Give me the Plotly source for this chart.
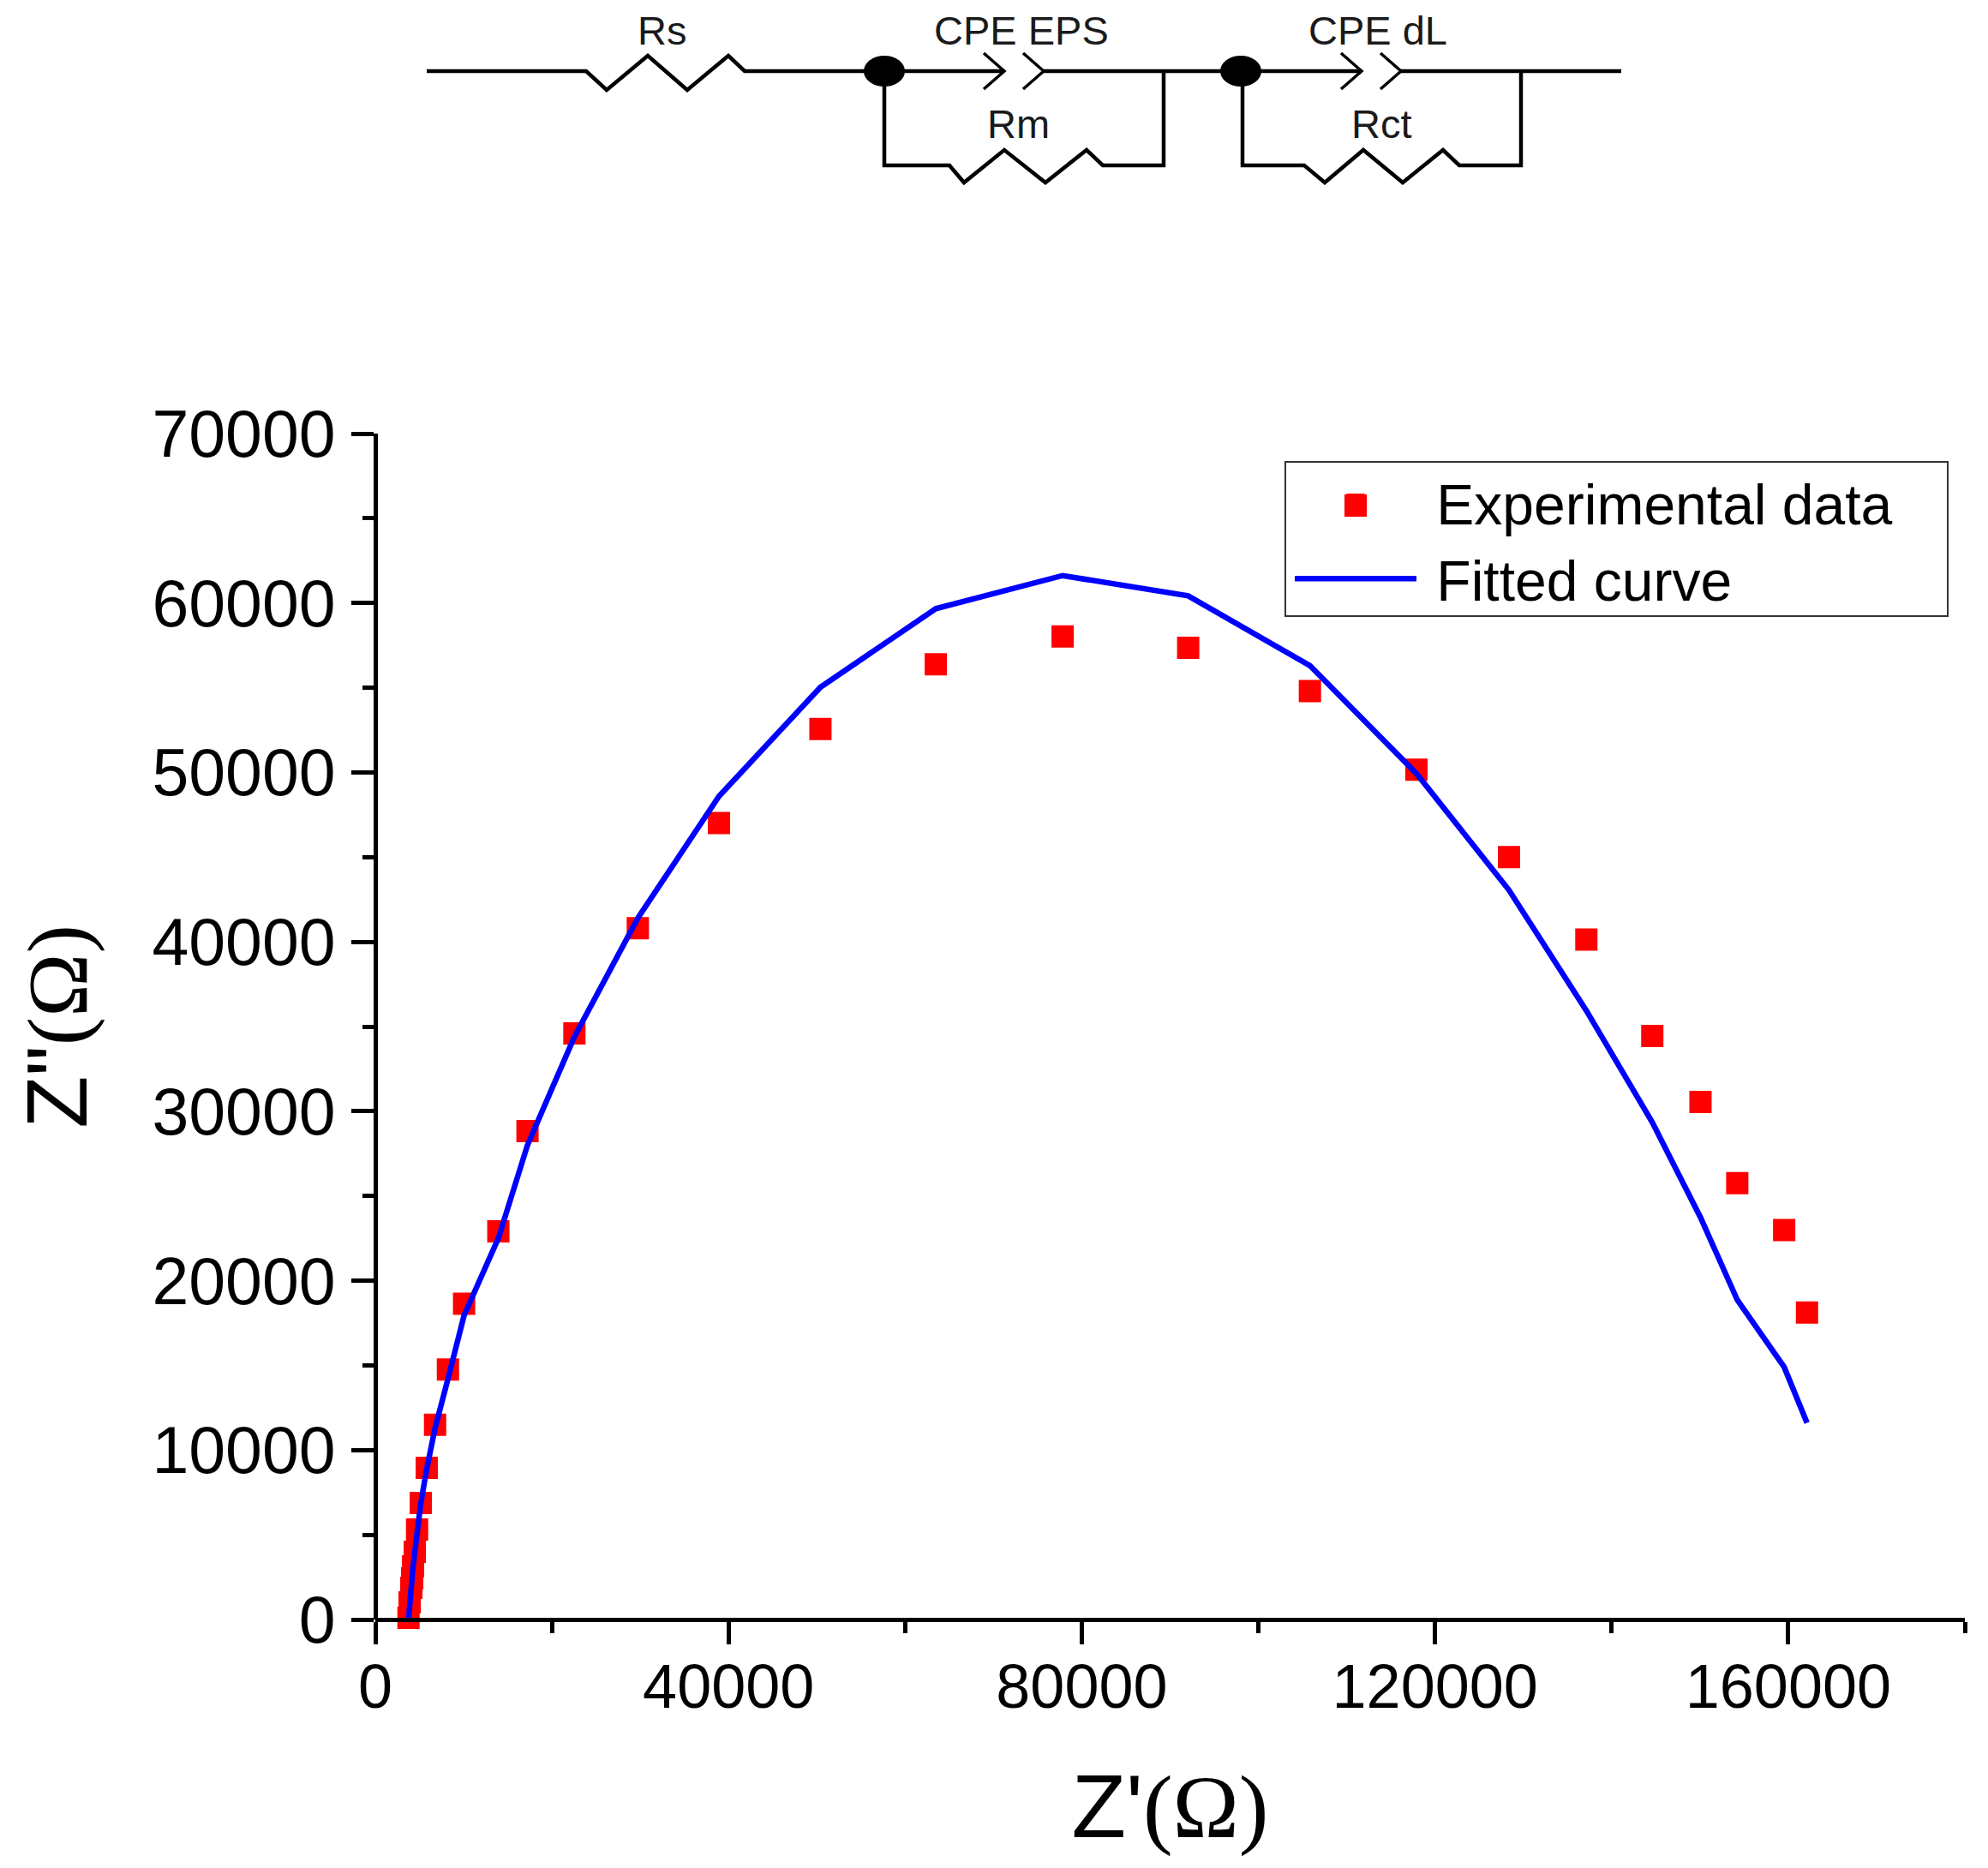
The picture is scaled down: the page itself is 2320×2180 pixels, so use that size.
import plotly.graph_objects as go

W, H = 2320, 2180
FONT = "Liberation Sans"

z_real_exp = [3757, 3883, 4078, 4175, 4272, 4466, 4728, 5146, 5825, 6767, 8223, 10052, 13930, 17232,
              22545, 29725, 38916, 50404, 63471, 77831, 92048, 105833, 117896, 128378, 137138,
              144605, 150062, 154226, 159539, 162124]
z_imag_exp = [100, 1012, 1871, 2428, 3136, 3996, 5311, 6879, 8953, 11497, 14754, 18643, 22910, 28825,
              34590, 40804, 47018, 52558, 56377, 58024, 57350, 54805, 50163, 44997, 40130,
              34440, 30547, 25755, 22985, 18118]
z_imag_fit = [0, 1010, 1870, 2420, 3130, 3990, 5300, 6850, 8900, 11300, 14200, 17950, 22500, 28000,
              34400, 41400, 48590, 55030, 59670, 61618, 60420, 56302, 49938, 43050, 35938,
              29349, 23734, 18867, 14900, 11605]

# Equivalent-circuit sketch, in page pixels
circuit_wires = [
    [(498, 83), (684, 83), (708, 105), (756, 65), (802, 105), (850, 65), (869, 83), (1172, 83)],
    [(1218, 83), (1589, 83)],
    [(1635, 83), (1892, 83)],
    [(1032, 83), (1032, 193), (1108, 193), (1125, 213), (1172, 175), (1220, 213), (1268, 175),
     (1287, 193), (1358, 193), (1358, 83)],
    [(1450, 83), (1450, 193), (1522, 193), (1546, 213), (1591, 175), (1637, 213), (1684, 175),
     (1703, 193), (1775, 193), (1775, 83)],
]
circuit_chevrons = [(1172, 83), (1218, 83), (1589, 83), (1635, 83)]
circuit_nodes = [(1032, 83), (1448, 83)]
circuit_labels = [("Rs", 772, 36), ("CPE EPS", 1192, 36), ("CPE dL", 1608, 36), ("Rm", 1188, 145), ("Rct", 1612, 145)]
legend_box_px = (1500, 539, 2273, 719)
legend_marker_px = (1582, 590)


def px(x):
    return x / W


def py(y):
    return 1 - y / H


def path(points):
    return "M " + " L ".join(f"{px(x):.5f},{py(y):.5f}" for x, y in points)


shapes = []
for pts in circuit_wires:
    shapes.append(dict(type="path", xref="paper", yref="paper", path=path(pts),
                       line=dict(color="black", width=4.5)))
for cx, cy in circuit_chevrons:
    shapes.append(dict(type="path", xref="paper", yref="paper",
                       path=path([(cx - 24, cy - 21), (cx, cy), (cx - 24, cy + 21)]),
                       line=dict(color="black", width=3.5)))
for cx, cy in circuit_nodes:
    shapes.append(dict(type="circle", xref="paper", yref="paper", x0=px(cx - 24), x1=px(cx + 24),
                       y0=py(cy + 18), y1=py(cy - 18), fillcolor="black", line=dict(color="black", width=0)))
lx, ly = legend_marker_px
shapes.append(dict(type="rect", xref="paper", yref="paper", x0=px(lx - 13), x1=px(lx + 13),
                   y0=py(ly + 13), y1=py(ly - 13), fillcolor="#ff0000", line=dict(width=0)))
bx0, by0, bx1, by1 = legend_box_px
shapes.append(dict(type="rect", xref="paper", yref="paper", x0=px(bx0), x1=px(bx1), y0=py(by1), y1=py(by0),
                   line=dict(color="#333333", width=2)))

annotations = [dict(text=t, x=px(x), y=py(y), xref="paper", yref="paper", showarrow=False,
                    xanchor="center", yanchor="middle",
                    font=dict(family=FONT, size=47, color="#1a1a1a")) for t, x, y in circuit_labels]

fig = go.Figure()
fig.add_trace(go.Scatter(x=z_real_exp, y=z_imag_exp, mode="markers", name="\u00a0Experimental data",
                         marker=dict(symbol="square", size=21, color="#ff0000", line=dict(width=5, color="#ff0000")),
                         cliponaxis=False))
fig.add_trace(go.Scatter(x=z_real_exp, y=z_imag_fit, mode="lines", name="\u00a0Fitted curve",
                         line=dict(color="#0000ff", width=6.5), cliponaxis=False))

omega = "<span style='font-family:Liberation Serif'>(Ω)</span>"
axis_common = dict(showgrid=False, zeroline=False, showline=True, linecolor="black", linewidth=5,
                   ticks="outside", ticklen=26, tickwidth=5, tickcolor="black", automargin=False)

fig.update_layout(
    width=W, height=H, margin=dict(l=0, r=0, t=0, b=0), autosize=False,
    paper_bgcolor="white", plot_bgcolor="white",
    shapes=shapes, annotations=annotations,
    font=dict(family=FONT, color="black"),
    xaxis=dict(domain=[438 / W, 2293 / W], range=[0, 180000], tick0=0, dtick=40000, tickformat="d",
               anchor="free", position=1 - 1890 / H,
               minor=dict(dtick=20000, ticks="outside", ticklen=13, tickwidth=5, tickcolor="black"),
               tickfont=dict(family=FONT, size=72, color="black"), ticklabelstandoff=-12,
               title=dict(text="Z'" + omega, font=dict(family=FONT, size=104), standoff=63),
               **axis_common),
    yaxis=dict(domain=[1 - 1890 / H, 1 - 506 / H], range=[0, 70000], tick0=0, dtick=10000, tickformat="d",
               anchor="free", position=438 / W,
               minor=dict(dtick=5000, ticks="outside", ticklen=13, tickwidth=5, tickcolor="black"),
               tickfont=dict(family=FONT, size=77, color="black"), ticklabelstandoff=3,
               title=dict(text='Z"' + omega, font=dict(family=FONT, size=100), standoff=41),
               **axis_common),
    legend=dict(x=1506 / W, y=1 - 537 / H, xanchor="left", yanchor="top", bgcolor="rgba(0,0,0,0)",
                borderwidth=0, font=dict(family=FONT, size=66, color="black"),
                itemwidth=142, tracegroupgap=0),
)

fig.write_html("out.html", post_script="document.body.style.margin='0';", config={"displayModeBar": False})
